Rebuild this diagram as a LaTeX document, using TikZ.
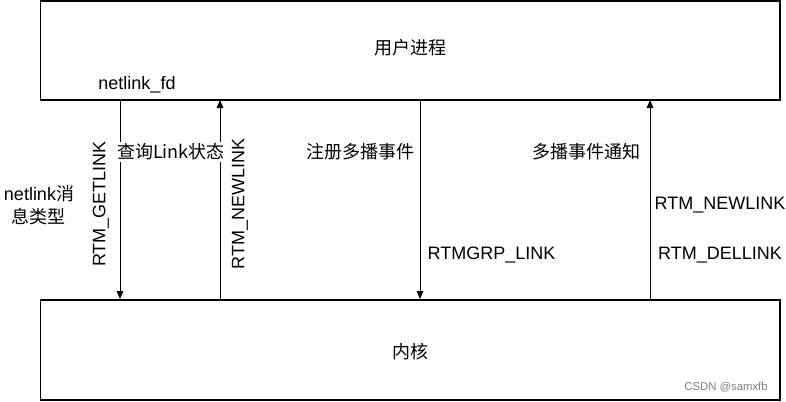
\documentclass[tikz,border=0pt]{standalone}
\usepackage{fontspec}
\setmainfont{Liberation Sans}
\newfontfamily\cjk{Noto Sans CJK SC}
\usetikzlibrary{arrows.meta}
\begin{document}
\begin{tikzpicture}[x=0.75pt,y=-0.75pt,
  box/.style={draw,line width=0.8pt},
  lbl/.style={font=\fontsize{13.5}{17}\selectfont,inner sep=1pt},
  conn/.style={line width=0.7pt,-{Triangle[length=6pt,width=5pt]}}]
\useasboundingbox (0,0) rectangle (786,401);
\draw[box] (40.5,1) rectangle (780,100);
\draw[box] (40.5,300) rectangle (780,400);
\node[lbl] (user) at (410,48) {\cjk 用户进程};
\node[lbl] (kernel) at (410,352) {\cjk 内核};
\node[lbl] (fd) at (137,85) {netlink\_fd};
\coordinate (a1t) at (120,100);
\coordinate (a1b) at (120,299);
\coordinate (a2t) at (220,100);
\coordinate (a2b) at (220,300);
\coordinate (a3t) at (420,100);
\coordinate (a3b) at (420,299);
\coordinate (a4t) at (650,100);
\coordinate (a4b) at (650,300);
\draw[conn] (a1t) -- (a1b);
\draw[conn] (a2b) -- (a2t);
\draw[conn] (a3t) -- (a3b);
\draw[conn] (a4b) -- (a4t);
\node[lbl,rotate=90] (getl) at (101,204) {RTM\_GETLINK};
\node[lbl,rotate=90] (newl) at (240,204) {RTM\_NEWLINK};
\node[lbl,fill=white] (query) at (171,152) {\cjk 查询Link状态};
\node[lbl,align=center] (msgtype) at (39,205) {netlink{\cjk 消}\\{\cjk 息类型}};
\node[lbl,anchor=east] (reg) at (416,152) {\cjk 注册多播事件};
\node[lbl,anchor=west] (grp) at (426,255) {RTMGRP\_LINK};
\node[lbl,anchor=east] (notify) at (642,152) {\cjk 多播事件通知};
\node[lbl] (newl2) at (720,205) {RTM\_NEWLINK};
\node[lbl] (dell) at (720,255) {RTM\_DELLINK};
\node[font=\fontsize{8.5}{10}\selectfont,text=gray,inner sep=0pt] (wm) at (726,387) {CSDN @samxfb};
\end{tikzpicture}
\end{document}
